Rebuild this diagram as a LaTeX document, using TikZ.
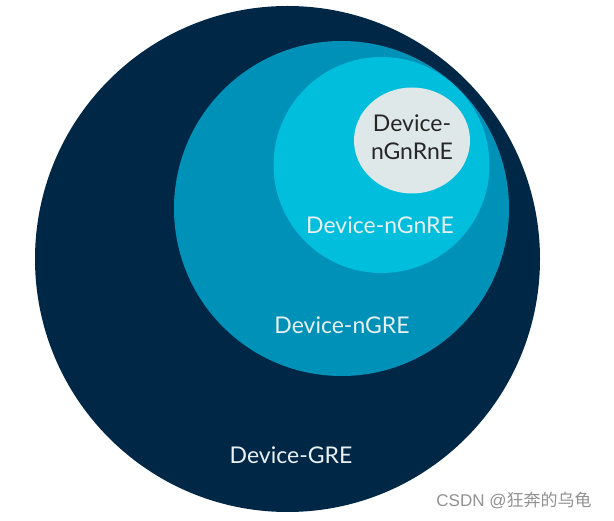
\documentclass[tikz,border=0pt]{standalone}
\usepackage{fontspec}
\setmainfont{Lato}
\newfontfamily\cjkfont{Noto Sans CJK SC}
\newfontfamily\wmfont{Liberation Sans}
\definecolor{navy}{RGB}{0,40,70}
\definecolor{midblue}{RGB}{0,145,185}
\definecolor{ltcyan}{RGB}{0,190,220}
\definecolor{pale}{RGB}{223,232,232}
\definecolor{lbl}{RGB}{232,240,242}
\definecolor{wm}{RGB}{145,145,145}
\tikzset{
  lab/.style={text=lbl, font=\fontsize{23}{27}\selectfont, inner sep=0pt},
  dark/.style={text=black!85, font=\fontsize{23}{27.5}\selectfont, inner sep=0pt, align=center}
}
\begin{document}
\begin{tikzpicture}[x=1pt,y=-1pt]
\useasboundingbox (0,0) rectangle (614,521);
\fill[navy] (287.5,259) ellipse [x radius=252.5, y radius=253];
\fill[midblue] (341.5,208.5) circle [radius=167.5];
\fill[ltcyan] (381.5,165) circle [radius=108];
\fill[pale] (412,140.5) ellipse [x radius=58, y radius=53];
\node[dark] (a) at (412,137) {Device-\\nGnRnE};
\node[lab] (b) at (380,225) {Device-nGnRE};
\node[lab] (c) at (342,325) {Device-nGRE};
\node[lab] (d) at (291,455) {Device-GRE};
\node[text=wm, font=\wmfont\fontsize{17}{20}\selectfont, inner sep=0pt] (w) at (514,500) {CSDN @{\cjkfont 狂奔的乌龟}};
\end{tikzpicture}
\end{document}
